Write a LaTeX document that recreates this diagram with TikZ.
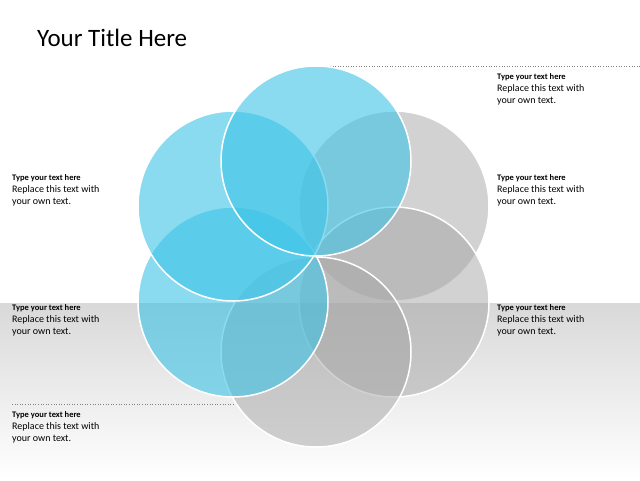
\documentclass[tikz,border=0pt]{standalone}
\usepackage{fontspec}
\setmainfont{Carlito}
\begin{document}
\begin{tikzpicture}[x=1pt,y=-1pt,
  blue/.style={fill={rgb,255:red,60;green,195;blue,230},fill opacity=0.6,draw=white,line width=1.5pt},
  grey/.style={fill={rgb,255:red,165;green,165;blue,165},fill opacity=0.5,draw=white,line width=1.5pt},
  lbl/.style={anchor=north west,align=left,font=\fontsize{10}{12}\selectfont,inner sep=0pt},
  dots/.style={dotted,gray,line width=0.6pt}]
\useasboundingbox (0,0) rectangle (640,480);
\shade[top color=black!15,bottom color=white] (0,303) rectangle (640,480);
\node[anchor=west,font=\fontsize{25}{28}\selectfont,inner sep=0pt] (title) at (37,38) {Your Title Here};
\coordinate (d1a) at (330,66); \coordinate (d1b) at (640,66);
\coordinate (d2a) at (12,404); \coordinate (d2b) at (235,404);
\draw[dots] (d1a) -- (d1b);
\draw[dots] (d2a) -- (d2b);
\node[grey,circle,minimum size=190pt] (ur) at (394,206) {};
\node[grey,circle,minimum size=190pt] (lr) at (394,302) {};
\node[grey,circle,minimum size=190pt] (b) at (316,352) {};
\node[blue,circle,minimum size=190pt] (ll) at (233,302) {};
\node[blue,circle,minimum size=190pt] (ul) at (233,206) {};
\node[blue,circle,minimum size=190pt] (t) at (316,161) {};
\node[lbl] (t1) at (497,73) {\textbf{\fontsize{8.5}{12}\selectfont Type your text here}\\Replace this text with\\your own text.};
\node[lbl] (t2) at (497,174) {\textbf{\fontsize{8.5}{12}\selectfont Type your text here}\\Replace this text with\\your own text.};
\node[lbl] (t3) at (497,304) {\textbf{\fontsize{8.5}{12}\selectfont Type your text here}\\Replace this text with\\your own text.};
\node[lbl] (t4) at (12,174) {\textbf{\fontsize{8.5}{12}\selectfont Type your text here}\\Replace this text with\\your own text.};
\node[lbl] (t5) at (12,304) {\textbf{\fontsize{8.5}{12}\selectfont Type your text here}\\Replace this text with\\your own text.};
\node[lbl] (t6) at (12,411) {\textbf{\fontsize{8.5}{12}\selectfont Type your text here}\\Replace this text with\\your own text.};
\end{tikzpicture}
\end{document}
